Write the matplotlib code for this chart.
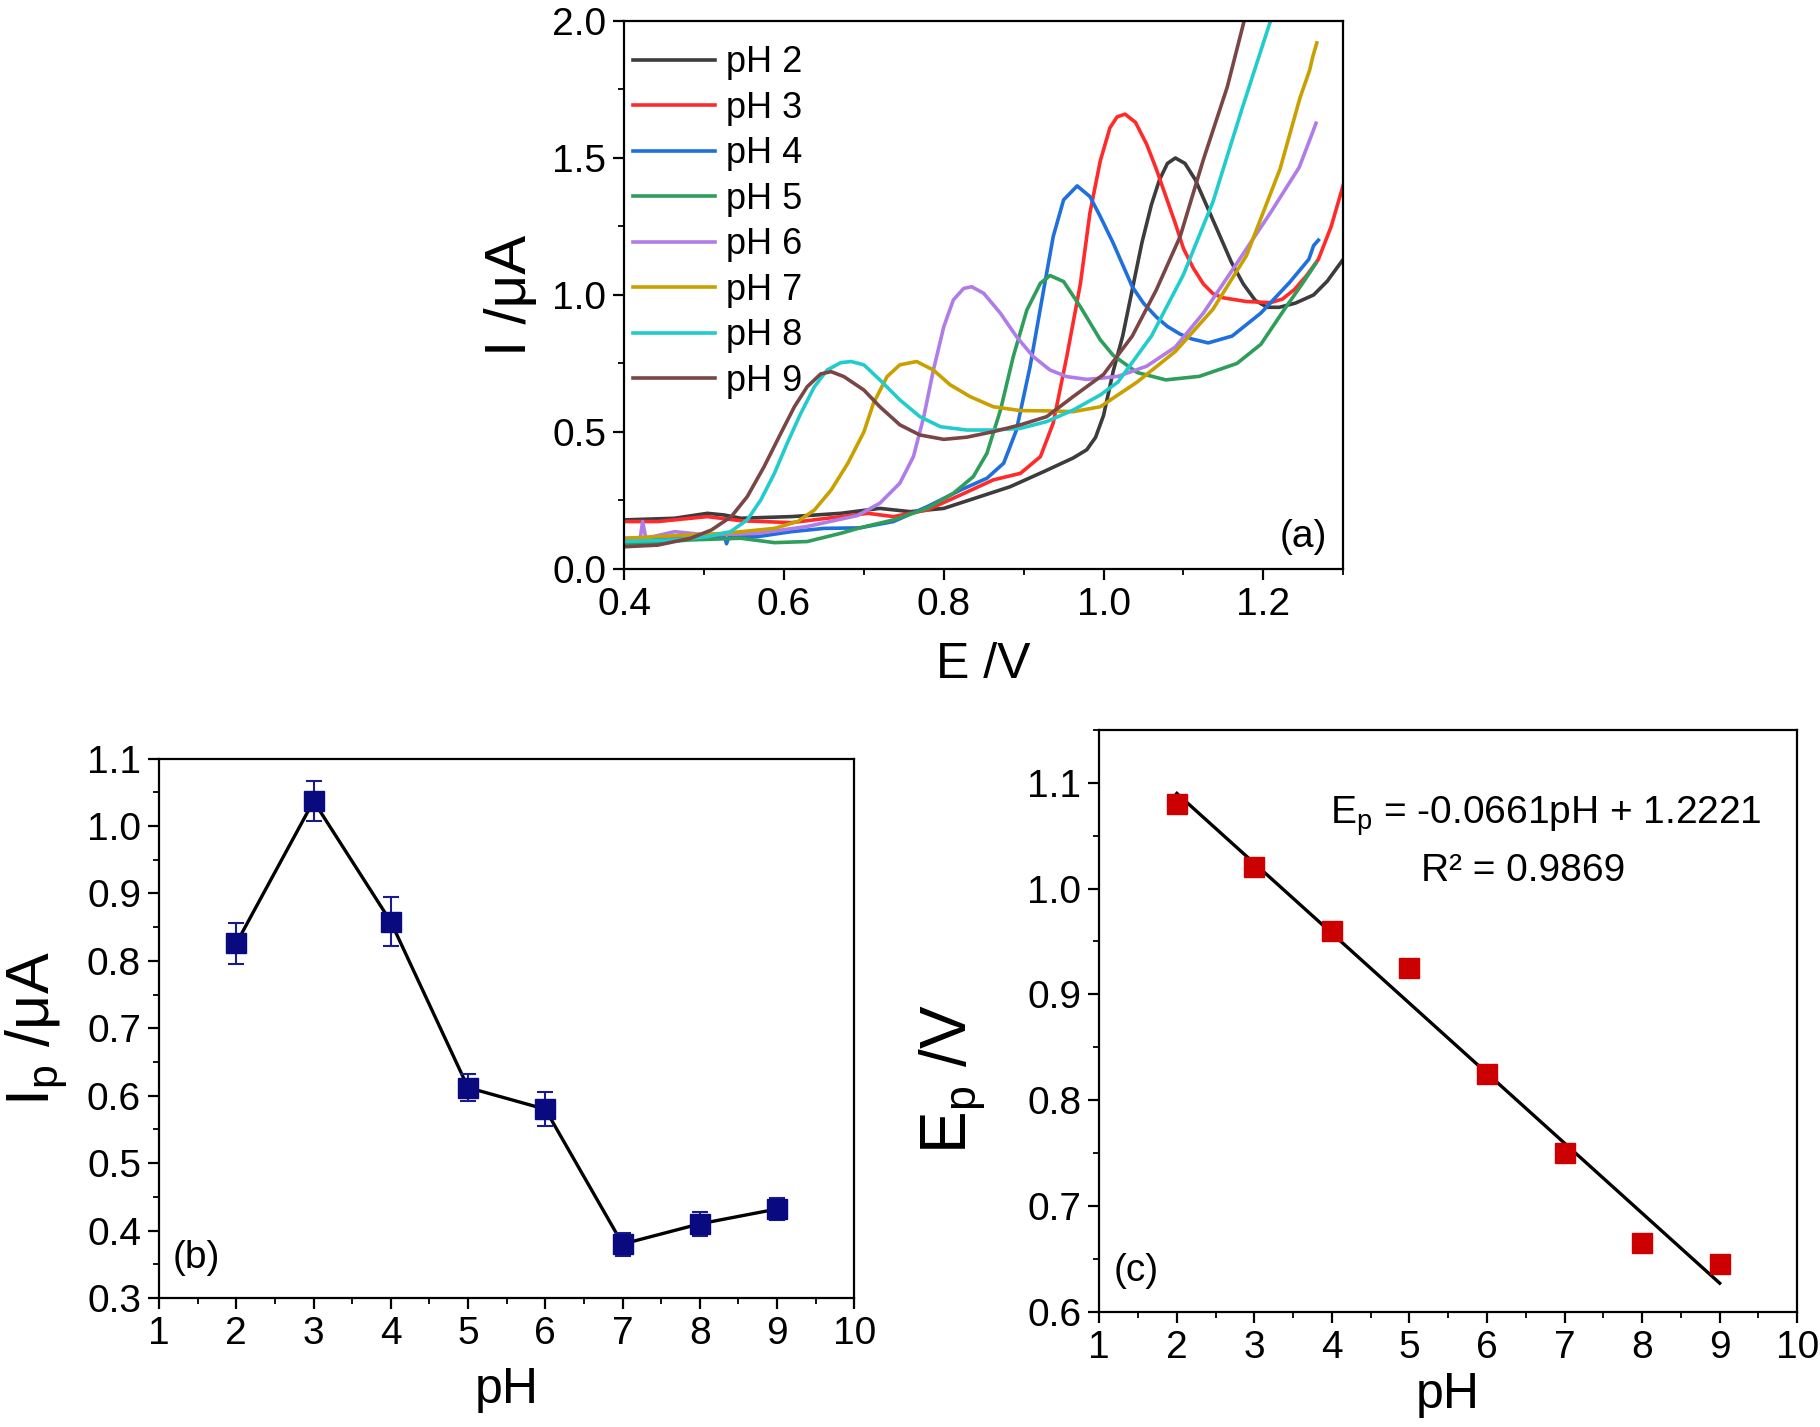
import matplotlib
matplotlib.use("Agg")
import matplotlib.pyplot as plt
import numpy as np
from matplotlib.ticker import MultipleLocator, FormatStrFormatter

plt.rcParams['font.family'] = ['Liberation Sans', 'DejaVu Sans']
plt.rcParams['mathtext.fontset'] = 'custom'
plt.rcParams['mathtext.rm'] = 'Liberation Sans'
plt.rcParams['mathtext.it'] = 'Liberation Sans'

# ---------------- Panel (a) data: DPV curves ----------------
ph_labels = ["pH 2", "pH 3", "pH 4", "pH 5", "pH 6", "pH 7", "pH 8", "pH 9"]

e_ph2 = [0.400, 0.463, 0.504, 0.525, 0.546, 0.609, 0.671, 0.695, 0.720, 0.758, 0.800, 0.841, 0.883, 0.925,
         0.962, 0.979, 0.990, 1.000, 1.012, 1.024, 1.036, 1.048, 1.060, 1.070, 1.080, 1.090, 1.102, 1.115,
         1.130, 1.145, 1.160, 1.175, 1.190, 1.205, 1.220, 1.240, 1.263, 1.280, 1.300]
i_ph2 = [0.179, 0.185, 0.203, 0.197, 0.185, 0.191, 0.203, 0.212, 0.221, 0.209, 0.221, 0.260, 0.300, 0.355,
         0.405, 0.435, 0.480, 0.560, 0.720, 0.850, 1.020, 1.190, 1.330, 1.420, 1.480, 1.500, 1.480, 1.420,
         1.320, 1.220, 1.120, 1.040, 0.980, 0.955, 0.955, 0.970, 1.000, 1.050, 1.130]

e_ph3 = [0.400, 0.442, 0.504, 0.546, 0.609, 0.671, 0.705, 0.737, 0.779, 0.821, 0.862, 0.896, 0.921, 0.937,
         0.954, 0.971, 0.983, 0.996, 1.008, 1.017, 1.027, 1.040, 1.054, 1.066, 1.078, 1.090, 1.100, 1.112,
         1.125, 1.137, 1.149, 1.179, 1.209, 1.224, 1.239, 1.254, 1.269, 1.285, 1.300]
i_ph3 = [0.173, 0.173, 0.191, 0.176, 0.169, 0.191, 0.203, 0.191, 0.215, 0.270, 0.325, 0.349, 0.410, 0.532,
         0.775, 1.040, 1.300, 1.490, 1.610, 1.650, 1.660, 1.630, 1.550, 1.460, 1.360, 1.260, 1.170, 1.100,
         1.040, 1.005, 0.990, 0.976, 0.972, 0.985, 1.020, 1.070, 1.130, 1.250, 1.400]

e_ph4 = [0.400, 0.504, 0.526, 0.528, 0.531, 0.567, 0.609, 0.650, 0.695, 0.737, 0.779, 0.821, 0.854, 0.875,
         0.891, 0.908, 0.925, 0.937, 0.950, 0.967, 0.983, 0.996, 1.012, 1.036, 1.050, 1.066, 1.080, 1.096,
         1.110, 1.131, 1.161, 1.197, 1.233, 1.257, 1.263, 1.269]
i_ph4 = [0.106, 0.112, 0.116, 0.092, 0.116, 0.118, 0.136, 0.148, 0.150, 0.173, 0.227, 0.288, 0.331, 0.386,
         0.507, 0.738, 1.018, 1.213, 1.347, 1.398, 1.359, 1.286, 1.190, 1.030, 0.970, 0.920, 0.885, 0.857,
         0.840, 0.825, 0.850, 0.934, 1.046, 1.130, 1.180, 1.200]

e_ph5 = [0.400, 0.483, 0.546, 0.588, 0.629, 0.671, 0.695, 0.737, 0.779, 0.812, 0.837, 0.854, 0.871, 0.887,
         0.904, 0.921, 0.933, 0.950, 0.971, 0.996, 1.012, 1.042, 1.078, 1.120, 1.167, 1.197, 1.227, 1.250,
         1.266]
i_ph5 = [0.088, 0.106, 0.112, 0.096, 0.100, 0.130, 0.150, 0.179, 0.221, 0.276, 0.337, 0.422, 0.580, 0.775,
         0.945, 1.043, 1.071, 1.049, 0.957, 0.836, 0.780, 0.717, 0.690, 0.703, 0.750, 0.820, 0.950, 1.046,
         1.116]

e_ph6 = [0.400, 0.420, 0.423, 0.427, 0.463, 0.504, 0.567, 0.629, 0.692, 0.720, 0.745, 0.762, 0.775, 0.787,
         0.800, 0.812, 0.825, 0.835, 0.850, 0.871, 0.891, 0.912, 0.933, 0.954, 0.979, 0.996, 1.018, 1.054,
         1.090, 1.125, 1.167, 1.209, 1.245, 1.260, 1.266]
i_ph6 = [0.112, 0.112, 0.173, 0.112, 0.136, 0.124, 0.130, 0.155, 0.195, 0.240, 0.313, 0.410, 0.556, 0.726,
         0.884, 0.982, 1.024, 1.030, 1.006, 0.933, 0.848, 0.775, 0.726, 0.702, 0.692, 0.696, 0.703, 0.740,
         0.810, 0.934, 1.116, 1.300, 1.466, 1.580, 1.627]

e_ph7 = [0.400, 0.525, 0.588, 0.617, 0.638, 0.659, 0.680, 0.700, 0.712, 0.729, 0.745, 0.766, 0.787, 0.808,
         0.833, 0.862, 0.896, 0.929, 0.962, 0.996, 1.042, 1.090, 1.137, 1.179, 1.221, 1.246, 1.258, 1.262,
         1.267]
i_ph7 = [0.112, 0.130, 0.148, 0.173, 0.215, 0.288, 0.386, 0.500, 0.605, 0.702, 0.745, 0.757, 0.726, 0.672,
         0.629, 0.592, 0.578, 0.577, 0.574, 0.592, 0.682, 0.794, 0.948, 1.144, 1.460, 1.720, 1.820, 1.870,
         1.920]

e_ph8 = [0.400, 0.463, 0.504, 0.533, 0.554, 0.571, 0.588, 0.604, 0.621, 0.638, 0.654, 0.671, 0.684, 0.700,
         0.720, 0.745, 0.770, 0.796, 0.829, 0.862, 0.896, 0.929, 0.962, 0.996, 1.018, 1.060, 1.100, 1.137,
         1.173, 1.209]
i_ph8 = [0.100, 0.106, 0.118, 0.136, 0.179, 0.252, 0.349, 0.459, 0.568, 0.665, 0.726, 0.753, 0.757, 0.745,
         0.690, 0.617, 0.556, 0.519, 0.507, 0.507, 0.513, 0.538, 0.580, 0.635, 0.682, 0.850, 1.074, 1.340,
         1.676, 2.000]

e_ph9 = [0.400, 0.442, 0.483, 0.509, 0.534, 0.554, 0.575, 0.596, 0.613, 0.629, 0.646, 0.659, 0.675, 0.700,
         0.720, 0.745, 0.770, 0.800, 0.829, 0.862, 0.896, 0.929, 0.962, 1.000, 1.036, 1.066, 1.096, 1.125,
         1.155, 1.176]
i_ph9 = [0.081, 0.087, 0.112, 0.142, 0.191, 0.264, 0.373, 0.495, 0.592, 0.665, 0.712, 0.720, 0.702, 0.653,
         0.592, 0.526, 0.489, 0.473, 0.481, 0.501, 0.526, 0.556, 0.629, 0.710, 0.850, 1.018, 1.214, 1.494,
         1.760, 2.000]

# ---------------- Panel (b) data ----------------
ph = [2, 3, 4, 5, 6, 7, 8, 9]
ip = [0.826, 1.037, 0.858, 0.612, 0.580, 0.380, 0.410, 0.432]
ip_err = [0.030, 0.030, 0.036, 0.020, 0.025, 0.017, 0.018, 0.017]

# ---------------- Panel (c) data ----------------
ep = [1.080, 1.020, 0.960, 0.925, 0.825, 0.750, 0.665, 0.645]
fit_slope = -0.0661
fit_intercept = 1.2221
fit_r2 = 0.9869

colors = ["#3c3c3c", "#ff2b2b", "#1f6fdc", "#2e9e5a", "#b07ce8", "#c9a000", "#22cccc", "#7a4545"]

fig = plt.figure(figsize=(18.2, 14.27), dpi=100)

TICK_FS = 28
XLABEL_FS = 36


def style_axes(ax):
    for s in ax.spines.values():
        s.set_linewidth(1.6)
    ax.tick_params(axis='both', which='major', direction='out', length=8, width=1.6,
                   labelsize=TICK_FS, top=False, right=False, pad=5)
    ax.tick_params(axis='both', which='minor', direction='out', length=4, width=1.3,
                   top=False, right=False)


# Panel (a)
axa = fig.add_axes([0.343, 0.6013, 0.395, 0.384])
curves = [(e_ph2, i_ph2), (e_ph3, i_ph3), (e_ph4, i_ph4), (e_ph5, i_ph5),
          (e_ph6, i_ph6), (e_ph7, i_ph7), (e_ph8, i_ph8), (e_ph9, i_ph9)]
for (e, i), lab, c in zip(curves, ph_labels, colors):
    axa.plot(e, i, color=c, lw=2.6, label=lab, solid_joinstyle='round')
axa.set_xlim(0.4, 1.3)
axa.set_ylim(0.0, 2.0)
axa.xaxis.set_major_locator(MultipleLocator(0.2))
axa.xaxis.set_minor_locator(MultipleLocator(0.1))
axa.yaxis.set_major_locator(MultipleLocator(0.5))
axa.yaxis.set_minor_locator(MultipleLocator(0.25))
axa.xaxis.set_major_formatter(FormatStrFormatter('%.1f'))
axa.yaxis.set_major_formatter(FormatStrFormatter('%.1f'))
style_axes(axa)
axa.set_xlabel("E /V", fontsize=XLABEL_FS, labelpad=14)
axa.set_ylabel("I /\u03bcA", fontsize=42, labelpad=10)
leg = axa.legend(loc='upper left', bbox_to_anchor=(0.0, 0.972), frameon=False, fontsize=26,
                 handlelength=2.25, handletextpad=0.32, labelspacing=0.29,
                 borderaxespad=0.1, borderpad=0.15)
for line in leg.get_lines():
    line.set_linewidth(2.6)
axa.text(0.978, 0.025, "(a)", transform=axa.transAxes, ha='right', va='bottom', fontsize=TICK_FS)

# Panel (b)
axb = fig.add_axes([0.0874, 0.0904, 0.382, 0.378])
axb.plot(ph, ip, color='black', lw=2.4, zorder=2)
axb.errorbar(ph, ip, yerr=ip_err, fmt='s', color='#0a0a80', ecolor='#1a1a90',
             markersize=14, capsize=6, elinewidth=1.5, capthick=1.5, zorder=3)
axb.set_xlim(1, 10)
axb.set_ylim(0.3, 1.1)
axb.xaxis.set_major_locator(MultipleLocator(1))
axb.xaxis.set_minor_locator(MultipleLocator(0.5))
axb.yaxis.set_major_locator(MultipleLocator(0.1))
axb.yaxis.set_minor_locator(MultipleLocator(0.05))
axb.yaxis.set_major_formatter(FormatStrFormatter('%.1f'))
style_axes(axb)
axb.set_xlabel("pH", fontsize=XLABEL_FS, labelpad=11)
axb.set_ylabel("I$_\\mathregular{p}$ /\u03bcA", fontsize=44)
axb.yaxis.set_label_coords(-0.128, 0.5)
axb.text(0.02, 0.04, "(b)", transform=axb.transAxes, ha='left', va='bottom', fontsize=TICK_FS)

# Panel (c)
axc = fig.add_axes([0.604, 0.0806, 0.3835, 0.408])
axc.plot(ph, ep, 's', color='#cc0000', markersize=14, zorder=3)
fx = np.array([ph[0], ph[-1]])
axc.plot(fx, fit_slope * fx + fit_intercept, color='black', lw=2.4, zorder=2)
axc.set_xlim(1, 10)
axc.set_ylim(0.6, 1.15)
axc.xaxis.set_major_locator(MultipleLocator(1))
axc.xaxis.set_minor_locator(MultipleLocator(0.5))
axc.yaxis.set_major_locator(MultipleLocator(0.1))
axc.yaxis.set_minor_locator(MultipleLocator(0.05))
axc.yaxis.set_major_formatter(FormatStrFormatter('%.1f'))
style_axes(axc)
axc.set_xlabel("pH", fontsize=XLABEL_FS, labelpad=4)
axc.set_ylabel("E$_\\mathregular{p}$ /V", fontsize=46)
axc.yaxis.set_label_coords(-0.16, 0.40)
axc.text(0.64, 0.852, "E$_\\mathregular{p}$ = %.4fpH + %.4f" % (fit_slope, fit_intercept),
         transform=axc.transAxes, ha='center', va='center', fontsize=TICK_FS)
axc.text(0.607, 0.758, "R\u00b2 = %.4f" % fit_r2, transform=axc.transAxes,
         ha='center', va='center', fontsize=TICK_FS)
axc.text(0.02, 0.04, "(c)", transform=axc.transAxes, ha='left', va='bottom', fontsize=TICK_FS)

fig.savefig("out.png", dpi=100)
